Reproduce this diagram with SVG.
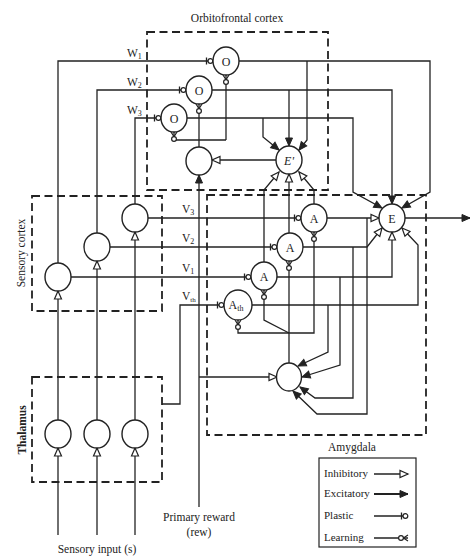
<svg xmlns="http://www.w3.org/2000/svg" xmlns:xlink="http://www.w3.org/1999/xlink" width="474" height="559" viewBox="0 0 474 559">
<style>
text{font-family:"Liberation Serif","Times New Roman",serif;fill:#222}
.lbl{font-size:11.5px}
.nl{font-size:12px;text-anchor:middle}
.node{fill:#fff;stroke:#222;stroke-width:1.4}
.box{fill:none;stroke:#222;stroke-width:1.8;stroke-dasharray:8 4.5}
.w{fill:none;stroke:#222;stroke-width:1.3}
</style>
<defs>
<marker id="inh" markerUnits="userSpaceOnUse" markerWidth="12" markerHeight="10" viewBox="-10 -5 12 10" refX="0" refY="0" orient="auto" overflow="visible"><path d="M0,0 L-8,-3.5 L-8,3.5 Z" fill="#fff" stroke="#222" stroke-width="1.2"/></marker>
<marker id="exc" markerUnits="userSpaceOnUse" markerWidth="12" markerHeight="10" viewBox="-10 -5 12 10" refX="0" refY="0" orient="auto" overflow="visible"><path d="M0,0 L-8,-3.5 L-8,3.5 Z" fill="#222" stroke="#222" stroke-width="1"/></marker>
<marker id="pls" markerUnits="userSpaceOnUse" markerWidth="12" markerHeight="10" viewBox="-10 -5 12 10" refX="0" refY="0" orient="auto" overflow="visible"><path d="M-6.5,-3.5 V3.5" stroke="#222" stroke-width="1.3"/><circle cx="-2.6" cy="0" r="2.4" fill="#fff" stroke="#222" stroke-width="1.2"/></marker>
<marker id="lrn" markerUnits="userSpaceOnUse" markerWidth="12" markerHeight="10" viewBox="-10 -5 12 10" refX="0" refY="0" orient="auto" overflow="visible"><circle cx="-7" cy="0" r="2.4" fill="#fff" stroke="#222" stroke-width="1.2"/><path d="M-4.6,0 L0,-3 M-4.6,0 L0,3" fill="none" stroke="#222" stroke-width="1.2"/></marker>
</defs>
<rect width="474" height="559" fill="#fff"/>

<g id="boxes">
<rect class="box" x="147" y="32" width="181" height="158"/>
<rect class="box" x="32" y="196" width="130" height="115"/>
<rect class="box" x="207" y="195" width="219" height="240"/>
<rect class="box" x="32" y="377" width="130" height="105"/>
<text class="lbl" x="237" y="22" text-anchor="middle">Orbitofrontal cortex</text>
<text class="lbl" x="352" y="451" text-anchor="middle">Amygdala</text>
<text class="lbl" transform="translate(25,253) rotate(-90)" text-anchor="middle">Sensory cortex</text>
<text class="lbl" transform="translate(26,430) rotate(-90)" text-anchor="middle" font-weight="bold">Thalamus</text>
<text class="lbl" x="199" y="521" text-anchor="middle">Primary reward</text>
<text class="lbl" x="199" y="536" text-anchor="middle">(rew)</text>
<text class="lbl" x="97" y="553" text-anchor="middle">Sensory input (s)</text>
</g>

<g id="connectors">
<path class="w" d="M58,263 V61 H213" marker-end="url(#pls)"/>
<path class="w" d="M97,233 V90 H186" marker-end="url(#pls)"/>
<path class="w" d="M135,205 V118 H161" marker-end="url(#pls)"/>
<path class="w" d="M239,61 H430 V192 L402,208" marker-end="url(#exc)"/>
<path class="w" d="M307,61 V140 L299,150" marker-end="url(#exc)"/>
<path class="w" d="M212,90 H392 V204" marker-end="url(#exc)"/>
<path class="w" d="M289,90 V146" marker-end="url(#exc)"/>
<path class="w" d="M187,118 H353 V192 L382,208" marker-end="url(#exc)"/>
<path class="w" d="M263,118 V137 L279,150" marker-end="url(#exc)"/>
<path class="w" d="M226,140 V75" marker-end="url(#lrn)"/>
<path class="w" d="M226,140 H174 V132" marker-end="url(#lrn)"/>
<path class="w" d="M199,147 V104" marker-end="url(#lrn)"/>
<path class="w" d="M276,160 H212" marker-end="url(#inh)"/>
<path class="w" d="M199,507 V175" marker-end="url(#exc)"/>
<path class="w" d="M199,377 H277" marker-end="url(#inh)"/>
<path class="w" d="M148,218 H301" marker-end="url(#pls)"/>
<path class="w" d="M110,247 H277" marker-end="url(#pls)"/>
<path class="w" d="M71,277 H251" marker-end="url(#pls)"/>
<path class="w" d="M162,404 H180 V305 H224" marker-end="url(#pls)"/>
<path class="w" d="M327,218 H379" marker-end="url(#inh)"/>
<path class="w" d="M303,247 H367 L382,228" marker-end="url(#inh)"/>
<path class="w" d="M277,277 H392 V232" marker-end="url(#inh)"/>
<path class="w" d="M252,305 H418 V245 L402,228" marker-end="url(#inh)"/>
<path class="w" d="M314,204 V190 L299,172" marker-end="url(#inh)"/>
<path class="w" d="M289,233 V174" marker-end="url(#inh)"/>
<path class="w" d="M264,262 V190 L279,172" marker-end="url(#inh)"/>
<path class="w" d="M328,305 V352 L298,366" marker-end="url(#exc)"/>
<path class="w" d="M340,277 V365 L302,377" marker-end="url(#exc)"/>
<path class="w" d="M353,247 V398 H315 L300,387" marker-end="url(#exc)"/>
<path class="w" d="M367,218 V414 H317 L293,391" marker-end="url(#exc)"/>
<path class="w" d="M289,363 V261" marker-end="url(#lrn)"/>
<path class="w" d="M289,333 H314 V232" marker-end="url(#lrn)"/>
<path class="w" d="M289,333 H238 V320" marker-end="url(#lrn)"/>
<path class="w" d="M289,333 L264,320 V290" marker-end="url(#lrn)"/>
<path class="w" d="M405,218 H470" marker-end="url(#exc)"/>
<path class="w" d="M58,420 V291" marker-end="url(#inh)"/>
<path class="w" d="M97,420 V261" marker-end="url(#inh)"/>
<path class="w" d="M135,420 V232" marker-end="url(#inh)"/>
<path class="w" d="M58,535 V448" marker-end="url(#inh)"/>
<path class="w" d="M97,535 V448" marker-end="url(#inh)"/>
<path class="w" d="M135,535 V448" marker-end="url(#inh)"/>
</g>

<g id="weight-labels">
<text class="lbl" x="127" y="57">W<tspan font-size="8" dy="2">1</tspan></text>
<text class="lbl" x="127" y="86">W<tspan font-size="8" dy="2">2</tspan></text>
<text class="lbl" x="127" y="114">W<tspan font-size="8" dy="2">3</tspan></text>
<text class="lbl" x="182" y="213">V<tspan font-size="8" dy="2">3</tspan></text>
<text class="lbl" x="182" y="242">V<tspan font-size="8" dy="2">2</tspan></text>
<text class="lbl" x="182" y="272">V<tspan font-size="8" dy="2">1</tspan></text>
<text class="lbl" x="182" y="300">V<tspan font-size="7" dy="2">th</tspan></text>
</g>

<g id="O1"><ellipse class="node" cx="226" cy="61" rx="13" ry="14"/><text class="nl" x="226" y="65.5">O</text></g>
<g id="O2"><ellipse class="node" cx="199" cy="90" rx="13" ry="14"/><text class="nl" x="199" y="94.5">O</text></g>
<g id="O3"><ellipse class="node" cx="174" cy="118" rx="13" ry="14"/><text class="nl" x="174" y="122.5">O</text></g>
<g id="OFC-node"><ellipse class="node" cx="199" cy="161" rx="13" ry="14"/></g>
<g id="Eprime"><ellipse class="node" cx="289" cy="160" rx="13" ry="14"/><text class="nl" x="289" y="164.5" font-style="italic">E'</text></g>
<g id="S1"><ellipse class="node" cx="58" cy="277" rx="13" ry="14"/></g>
<g id="S2"><ellipse class="node" cx="97" cy="247" rx="13" ry="14"/></g>
<g id="S3"><ellipse class="node" cx="135" cy="218" rx="13" ry="14"/></g>
<g id="T1"><ellipse class="node" cx="58" cy="434" rx="13" ry="14"/></g>
<g id="T2"><ellipse class="node" cx="97" cy="434" rx="13" ry="14"/></g>
<g id="T3"><ellipse class="node" cx="135" cy="434" rx="13" ry="14"/></g>
<g id="A3"><ellipse class="node" cx="314" cy="218" rx="13" ry="14"/><text class="nl" x="314" y="222.5">A</text></g>
<g id="A2"><ellipse class="node" cx="290" cy="247" rx="13" ry="14"/><text class="nl" x="290" y="251.5">A</text></g>
<g id="A1"><ellipse class="node" cx="264" cy="276" rx="13" ry="14"/><text class="nl" x="264" y="280.5">A</text></g>
<g id="Ath"><ellipse class="node" cx="238" cy="305" rx="14" ry="15"/><text class="nl" x="236" y="309">A<tspan font-size="8" dy="2">th</tspan></text></g>
<g id="E"><ellipse class="node" cx="392" cy="218" rx="13" ry="14"/><text class="nl" x="392" y="222.5">E</text></g>
<g id="M"><ellipse class="node" cx="289" cy="377" rx="12.5" ry="14"/></g>

<g id="legend">
<rect x="319" y="458" width="97" height="89" fill="#fff" stroke="#222" stroke-width="1.2"/>
<text x="324" y="477" font-size="11">Inhibitory</text>
<text x="324" y="497" font-size="11">Excitatory</text>
<text x="324" y="519" font-size="11">Plastic</text>
<text x="324" y="541" font-size="11">Learning</text>
<path class="w" d="M374,474 H408" marker-end="url(#inh)"/>
<path d="M374,494 H408" fill="none" stroke="#222" stroke-width="2.2" marker-end="url(#exc)"/>
<path class="w" d="M374,516 H408" marker-end="url(#pls)"/>
<path class="w" d="M374,538 H408" marker-end="url(#lrn)"/>
</g>
</svg>
